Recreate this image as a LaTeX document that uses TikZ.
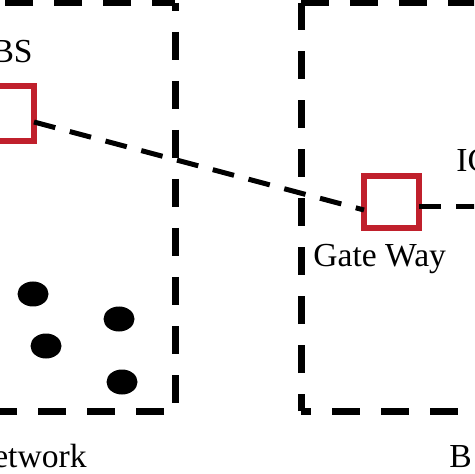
\documentclass[tikz,border=0pt]{standalone}
\usepackage{fontspec}
\setmainfont{Liberation Serif}
\usetikzlibrary{shapes.geometric}
\definecolor{sqred}{RGB}{192,32,44}

\begin{document}
\begin{tikzpicture}[x=0.5pt,y=-0.5pt]
\tikzstyle{boxline}=[line width=3.5pt,dash pattern=on 14pt off 10.5pt]
\tikzstyle{link}=[line width=2.5pt,dash pattern=on 11pt off 7.5pt]
\tikzstyle{sq}=[rectangle,draw=sqred,line width=3.2pt,fill=white,inner sep=0pt,outer sep=0pt]
\tikzstyle{dot}=[ellipse,fill=black,inner sep=0pt,minimum width=15.5pt,minimum height=12.5pt]
\tikzstyle{lbl}=[inner sep=0pt,font=\fontsize{16.8}{20}\selectfont]
\useasboundingbox (0,0) rectangle (474,474);
\clip (0,0) rectangle (474,474);
% left area
\draw[boxline,dash phase=2.5pt] (175,3) -- (-20,3);
\draw[boxline,dash phase=10pt] (175,3) -- (175,411);
\draw[boxline,dash phase=19pt] (175,411) -- (-20,411);
% right area
\draw[boxline,dash phase=5.5pt] (301,411) -- (301,3);
\draw[boxline] (301,3) -- (500,3);
\draw[boxline,dash phase=9pt] (301,411) -- (500,411);
% stations
\node[sq,minimum width=27.5pt,minimum height=27.5pt] at (6.5,113.5) (bs) {};
\node[sq,minimum width=27.5pt,minimum height=26pt] at (391.5,202) (gw) {};
\coordinate (ic) at (500,207);
\draw[link] ([yshift=-4.25pt]bs.east) -- ([yshift=-4pt]gw.west);
\draw[link] ([yshift=-2.5pt]gw.east) -- (ic);
% nodes
\foreach \n/\x/\y in {1/33/294,2/119/319,3/46/346,4/122/382}
  \node[dot] at (\x,\y) (d\n) {};
% labels
\node[lbl,anchor=base east] at (33,63) (bslbl) {BS};
\node[lbl,anchor=base west] at (313,267) (gwlbl) {Gate Way};
\node[lbl,anchor=base west] at (456,172) (iclbl) {IC};
\node[lbl,anchor=base east] at (87,467) (netlbl) {Network};
\node[lbl,anchor=base west] at (449,467) (blbl) {B};
\end{tikzpicture}
\end{document}
